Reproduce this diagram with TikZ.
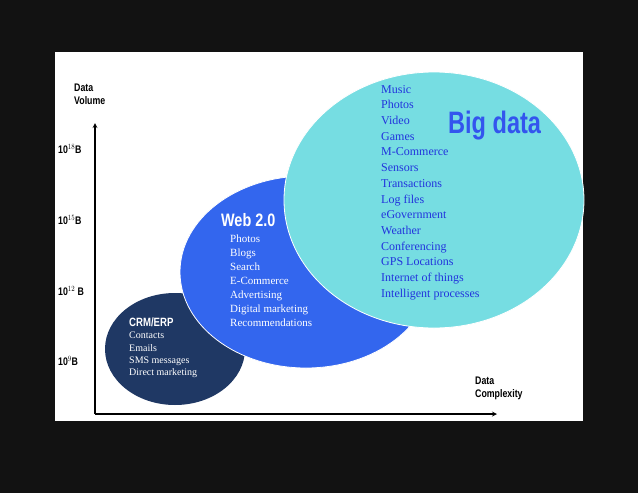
\documentclass[tikz,border=0pt]{standalone}
\usepackage{fontspec}
\setmainfont{Liberation Serif}
\newfontfamily\cond{Liberation Sans}
\begin{document}
\begin{tikzpicture}[x=1pt,y=-1pt,
  cl/.style={font=\cond\bfseries\fontsize{11}{13}\selectfont,xscale=0.8,align=left,inner sep=0},
  lst/.style={align=left,inner sep=0,anchor=north west}]
\fill[black!93] (0,0) rectangle (638,493);
\fill[white] (55,52) rectangle (583,421);
\useasboundingbox (0,0) rectangle (638,493);
% ellipses
\fill[blue!25!black!85!blue, fill={rgb,255:red,31;green,56;blue,100}] (175,349) ellipse [x radius=70,y radius=56];
\draw[white,line width=0.8,fill={rgb,255:red,51;green,102;blue,238}] (306,272) ellipse [x radius=126,y radius=96];
\draw[white,line width=0.8,fill={rgb,255:red,118;green,221;blue,226}] (434,200) ellipse [x radius=150,y radius=128];
% axes
\coordinate (o) at (95,414);
\coordinate (ytop) at (95,123);
\coordinate (xend) at (497,414);
\draw[line width=1.2,-stealth] (o) -- (ytop);
\draw[line width=1.2,-stealth] (o) -- (xend);
\node[cl,anchor=north west] (dv) at (74,84) {Data\\Volume};
\node[cl,anchor=north west] (dc) at (475,377) {Data\\Complexity};
\node[cl,anchor=west] (t18) at (58,149) {10$^{18}$B};
\node[cl,anchor=west] (t15) at (58,220) {10$^{15}$B};
\node[cl,anchor=west] (t12) at (58,291) {10$^{12}$ B};
\node[cl,anchor=west] (t9) at (58,361) {10$^{9}$B};
% CRM
\node[cl,white,anchor=west,font=\cond\bfseries\fontsize{12}{14}\selectfont] (crm) at (129,322) {CRM/ERP};
\node[lst,white,font=\fontsize{10}{12.3}\selectfont] (crml) at (129,332) {Contacts\\Emails\\SMS messages\\Direct marketing};
% Web
\node[cl,white,anchor=west,font=\cond\bfseries\fontsize{18}{20}\selectfont] (web) at (221,220) {Web 2.0};
\node[lst,white,font=\fontsize{11}{14}\selectfont] (webl) at (230,235) {Photos\\Blogs\\Search\\E-Commerce\\Advertising\\Digital marketing\\Recommendations};
% Big data
\node[cl,anchor=west,text={rgb,255:red,51;green,85;blue,238},font=\cond\bfseries\fontsize{31}{33}\selectfont,xscale=0.95] (bd) at (448,126) {Big data};
\node[lst,text={rgb,255:red,34;green,51;blue,221},font=\fontsize{12}{15.7}\selectfont] (bdl) at (381,85) {Music\\Photos\\Video\\Games\\M-Commerce\\Sensors\\Transactions\\Log files\\eGovernment\\Weather\\Conferencing\\GPS Locations\\Internet of things\\Intelligent processes};
\end{tikzpicture}
\end{document}
